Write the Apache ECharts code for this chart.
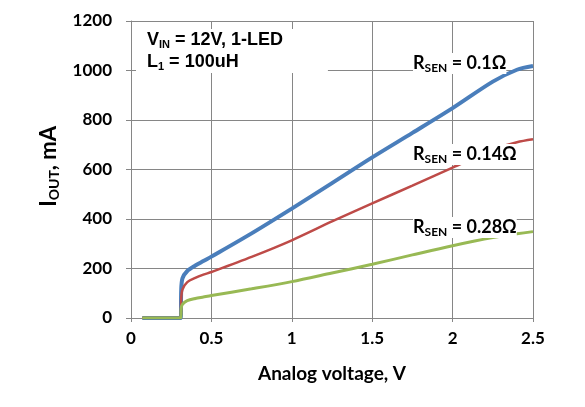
<!DOCTYPE html>
<html>
<head>
<meta charset="utf-8">
<script src="https://cdn.jsdelivr.net/npm/echarts@6/dist/echarts.min.js"></script>
<style>
  html, body { margin: 0; padding: 0; background: #fff; }
  #chart { width: 585px; height: 407px; }
</style>
</head>
<body>
<div id="chart"></div>
<script>
// analog voltage (V)
var volts = [0.07, 0.31, 0.312, 0.32, 0.35, 0.4, 0.45, 0.5, 0.75, 1.0, 1.25, 1.5, 1.75, 2.0, 2.25, 2.4, 2.5];
// output current (mA) for each sense resistor
var rsen01  = [0, 0, 110, 160, 190, 212, 230, 248, 342, 442, 545, 649, 748, 848, 955, 1003, 1018];
var rsen014 = [0, 0, 75, 115, 145, 162, 175, 186, 247, 314, 390, 463, 535, 608, 680, 710, 722];
var rsen028 = [0, 0, 38, 55, 70, 79, 85, 91, 118, 147, 182, 217, 255, 292, 325, 340, 349];
var xTicks = [0, 0.5, 1, 1.5, 2, 2.5];
var yTicks = [0, 200, 400, 600, 800, 1000, 1200];

function pairs(ys) {
  return volts.map(function (v, i) { return [v, ys[i]]; });
}

var chart = echarts.init(document.getElementById('chart'));
var gridColor = '#868686';
var labelFont = 'Lato, "Open Sans", sans-serif';
var arial = '"Liberation Sans", Arial, sans-serif';

var sub = { fontSize: 12, fontWeight: 'bold', fontFamily: labelFont, padding: [9, 0, 0, 0], color: '#000' };
var big = { fontSize: 18, fontWeight: 'bold', fontFamily: labelFont, color: '#000' };

function rsenLabel(val, y) {
  return {
    type: 'text', left: 413, top: y, z: 10,
    style: {
      text: '{a|R}{s|SEN}{a| = ' + val + '}',
      backgroundColor: '#fff',
      rich: { a: big, s: sub }
    }
  };
}

var option = {
  animation: false,
  grid: { left: 131, right: 52, top: 21, bottom: 89 },
  xAxis: {
    type: 'value', min: 0, max: 2.5, interval: 0.5,
    axisLine: { lineStyle: { color: gridColor } },
    axisTick: { show: true, length: 4, lineStyle: { color: gridColor } },
    splitLine: { lineStyle: { color: gridColor, width: 1 } },
    axisLabel: {
      color: '#000', fontSize: 17, fontWeight: 'bold', fontFamily: labelFont, margin: 12,
      formatter: function (v) { return xTicks.indexOf(v) >= 0 ? String(v) : ''; }
    },
    name: 'Analog voltage, V', nameLocation: 'middle', nameGap: 46,
    nameTextStyle: { color: '#000', fontSize: 19, fontWeight: 'bold', fontFamily: labelFont }
  },
  yAxis: {
    type: 'value', min: 0, max: 1200, interval: 200,
    axisLine: { show: true, lineStyle: { color: gridColor } },
    axisTick: { show: true, length: 5, lineStyle: { color: gridColor } },
    splitLine: { lineStyle: { color: gridColor, width: 1 } },
    axisLabel: {
      color: '#000', fontSize: 17, fontWeight: 'bold', fontFamily: labelFont, margin: 19,
      formatter: function (v) { return yTicks.indexOf(v) >= 0 ? String(v) : ''; }
    }
  },
  graphic: [
    {
      type: 'text', left: 136, top: 29, z: 10,
      style: {
        text: '{a|V}{s|IN}{a| = 12V, 1-LED}\n{a|L}{s|1}{a| = 100uH}',
        backgroundColor: '#fff',
        padding: [0, 45, 0, 11],
        rich: {
          a: { fontSize: 18, fontWeight: 'bold', fontFamily: arial, color: '#000', lineHeight: 22 },
          s: { fontSize: 11, fontWeight: 'bold', fontFamily: arial, color: '#000', padding: [9, 0, 0, 0], lineHeight: 22 }
        }
      }
    },
    rsenLabel('0.1\u03A9', 53),
    rsenLabel('0.14\u03A9', 144),
    rsenLabel('0.28\u03A9', 217),
    {
      type: 'text', left: 38, top: 126, rotation: Math.PI / 2,
      style: {
        text: '{a|I}{s|OUT}{a|, mA}',
        rich: {
          a: { fontSize: 22, fontWeight: 'bold', fontFamily: labelFont, color: '#000' },
          s: { fontSize: 14, fontWeight: 'bold', fontFamily: labelFont, color: '#000', padding: [10, 0, 0, 0] }
        }
      }
    }
  ],
  series: [
    { name: 'RSEN = 0.1', type: 'line', data: pairs(rsen01), showSymbol: false, smooth: 0.3,
      lineStyle: { color: '#4a7ebb', width: 4 }, z: 2 },
    { name: 'RSEN = 0.14', type: 'line', data: pairs(rsen014), showSymbol: false, smooth: 0.3,
      lineStyle: { color: '#be4b48', width: 2.5 }, z: 3 },
    { name: 'RSEN = 0.28', type: 'line', data: pairs(rsen028), showSymbol: false, smooth: 0.3,
      lineStyle: { color: '#98b954', width: 3 }, z: 4 }
  ]
};
chart.setOption(option);
</script>
</body>
</html>
